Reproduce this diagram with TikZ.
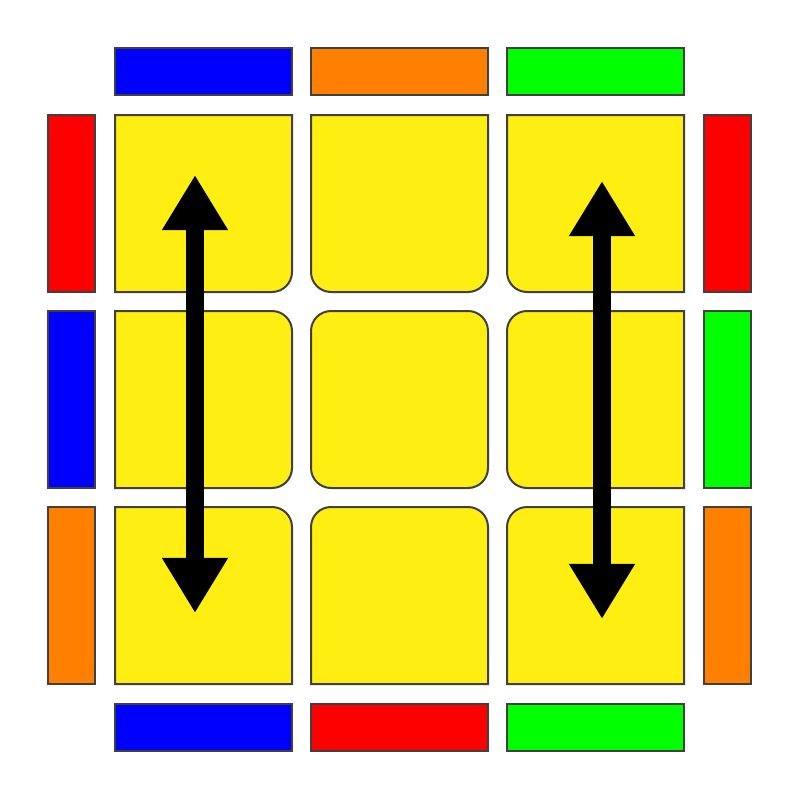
\documentclass[tikz,border=0pt]{standalone}
\usepackage{tikz}
\usetikzlibrary{arrows.meta}
\definecolor{cubeyellow}{RGB}{255,238,17}
\definecolor{cubeorange}{RGB}{255,128,0}
\definecolor{cubegreen}{RGB}{0,255,0}
\definecolor{cubeblue}{RGB}{0,0,255}
\definecolor{cubered}{RGB}{255,0,0}
\definecolor{edgegray}{RGB}{64,64,64}
% one yellow sticker: x, y, then corner radii tl, tr, br, bl
\newcommand{\facelet}[6]{\draw[facelet] (#1,#2+88) [rounded corners=#3] |- (#1+88,#2) [rounded corners=#4] -| (#1+177,#2+88) [rounded corners=#5] |- (#1+88,#2+177) [rounded corners=#6] -| (#1,#2+88) -- cycle;}

\begin{document}
\begin{tikzpicture}[x=0.01cm,y=-0.01cm,
facelet/.style={draw=edgegray,line width=0.02cm,fill=cubeyellow},
sidebar/.style={draw=edgegray,line width=0.02cm,fill=#1},
turn/.style={line width=0.18cm,{Triangle[length=0.55cm,width=0.62cm]}-{Triangle[length=0.55cm,width=0.62cm]}}]
\useasboundingbox (0,0) rectangle (800,800);
% top face
\facelet{115}{115}{0pt}{0pt}{0.2cm}{0pt}
\facelet{311}{115}{0pt}{0pt}{0.2cm}{0.2cm}
\facelet{507}{115}{0pt}{0pt}{0pt}{0.2cm}
\facelet{115}{311}{0pt}{0.2cm}{0.2cm}{0pt}
\facelet{311}{311}{0.2cm}{0.2cm}{0.2cm}{0.2cm}
\facelet{507}{311}{0.2cm}{0pt}{0pt}{0.2cm}
\facelet{115}{507}{0pt}{0.2cm}{0pt}{0pt}
\facelet{311}{507}{0.2cm}{0.2cm}{0pt}{0pt}
\facelet{507}{507}{0.2cm}{0pt}{0pt}{0pt}
% side stickers
\foreach \pos/\top/\bottom in {115/cubeblue/cubeblue,311/cubeorange/cubered,507/cubegreen/cubegreen}{
\draw[sidebar=\top] (\pos,48) rectangle (\pos+177,95);
\draw[sidebar=\bottom] (\pos,704) rectangle (\pos+177,751);
}
\foreach \pos/\left/\right in {115/cubered/cubered,311/cubeblue/cubegreen,507/cubeorange/cubeorange}{
\draw[sidebar=\left] (48,\pos) rectangle (95,\pos+177);
\draw[sidebar=\right] (704,\pos) rectangle (751,\pos+177);
}
% swaps
\coordinate (lefttop) at (195,175);
\coordinate (leftbottom) at (195,613);
\coordinate (righttop) at (602,181);
\coordinate (rightbottom) at (602,619);
\draw[turn] (lefttop) -- (leftbottom);
\draw[turn] (righttop) -- (rightbottom);
\end{tikzpicture}
\end{document}
